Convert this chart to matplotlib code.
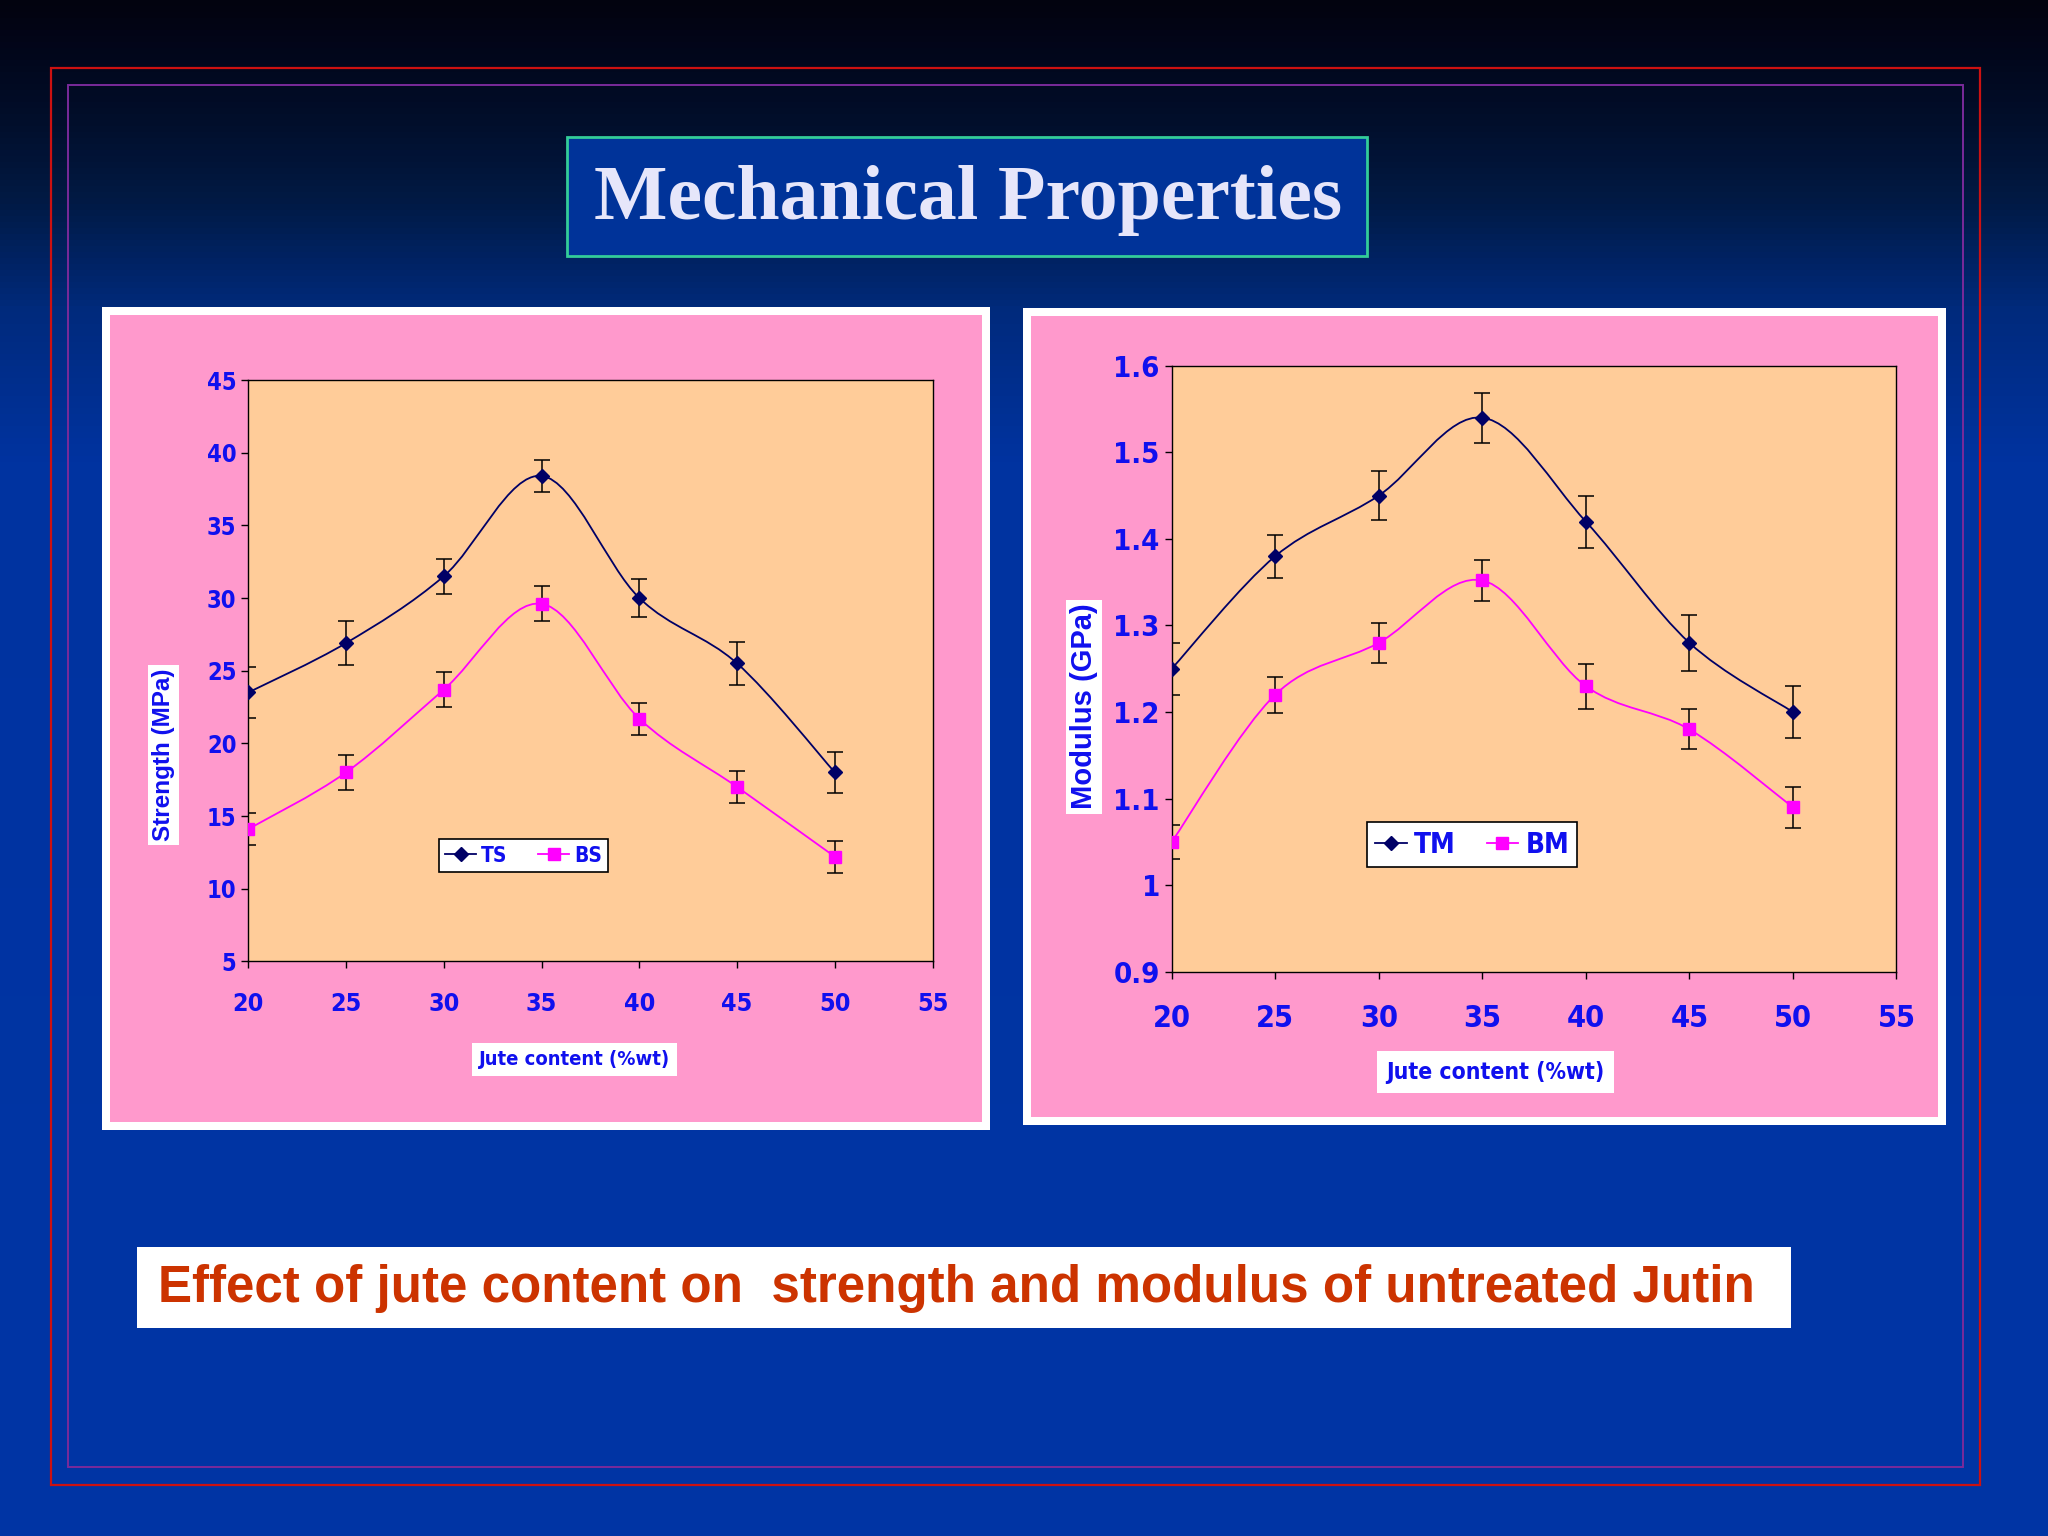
import numpy as np
import matplotlib
matplotlib.use("Agg")
import matplotlib.pyplot as plt
from matplotlib.patches import Rectangle, PathPatch
from matplotlib.path import Path
from matplotlib.lines import Line2D
from matplotlib.colors import LinearSegmentedColormap

# data
jute = [20, 25, 30, 35, 40, 45, 50]
ts = [23.5, 26.9, 31.5, 38.4, 30.0, 25.5, 18.0]
ts_err = [1.75, 1.5, 1.2, 1.1, 1.3, 1.5, 1.4]
bs = [14.1, 18.0, 23.7, 29.6, 21.7, 17.0, 12.2]
bs_err = [1.1, 1.2, 1.2, 1.2, 1.1, 1.1, 1.1]
tm = [1.25, 1.38, 1.45, 1.54, 1.42, 1.28, 1.20]
tm_err = [0.03, 0.025, 0.028, 0.029, 0.03, 0.032, 0.03]
bm = [1.05, 1.22, 1.28, 1.352, 1.23, 1.18, 1.09]
bm_err = [0.02, 0.021, 0.023, 0.024, 0.026, 0.023, 0.024]
x_ticks = [20, 25, 30, 35, 40, 45, 50, 55]
strength_ticks = [5, 10, 15, 20, 25, 30, 35, 40, 45]
modulus_ticks = [0.9, 1.0, 1.1, 1.2, 1.3, 1.4, 1.5, 1.6]
modulus_labels = ["0.9", "1", "1.1", "1.2", "1.3", "1.4", "1.5", "1.6"]

NARROW = ["DejaVu Sans", "Liberation Sans"]
ARIAL = ["Liberation Sans", "DejaVu Sans"]
TICK_BLUE = "#1010ee"
NAVY = "#000066"
MAGENTA = "#ff00ff"
NKW = dict(family=NARROW, fontweight="bold", fontstretch="condensed")


def smooth_path(x, y):
    # excel-like smoothed line: bezier segments through the points
    n = len(x)
    verts = [(x[0], y[0])]
    codes = [Path.MOVETO]
    for i in range(n - 1):
        a = max(i - 1, 0)
        b = min(i + 2, n - 1)
        c1 = (x[i] + (x[i + 1] - x[a]) / 6.0, y[i] + (y[i + 1] - y[a]) / 6.0)
        c2 = (x[i + 1] - (x[b] - x[i]) / 6.0, y[i + 1] - (y[b] - y[i]) / 6.0)
        verts += [c1, c2, (x[i + 1], y[i + 1])]
        codes += [Path.CURVE4] * 3
    return Path(verts, codes)


fig = plt.figure(figsize=(20.48, 15.36), dpi=100)

# slide background
bg = fig.add_axes([0, 0, 1, 1])
cmap = LinearSegmentedColormap.from_list(
    "slide", [(0, "#02030f"), (0.03, "#02061a"), (0.08, "#010f2c"),
              (0.13, "#011a45"), (0.2, "#002a7c"), (0.3, "#0033a0"),
              (1, "#0035a5")])
grad = np.linspace(0, 1, 256).reshape(-1, 1)
bg.imshow(grad, aspect="auto", cmap=cmap, extent=[0, 1, 0, 1], origin="upper")
bg.set_xlim(0, 1)
bg.set_ylim(0, 1)
bg.axis("off")

# frame lines
bg.add_patch(Rectangle((0.0249, 0.0332), 0.9419, 0.9226, fill=False,
                       ec="#cc1111", lw=1.6))
bg.add_patch(Rectangle((0.0332, 0.0451), 0.9253, 0.8996, fill=False,
                       ec="#7a2a9a", lw=1.4))

# title box
bg.add_patch(Rectangle((0.2768, 0.8333), 0.3909, 0.0774, fc="#003399",
                       ec="#33cc99", lw=2))
bg.text(0.4726, 0.8695, "Mechanical Properties", ha="center", va="center",
        fontsize=56, fontweight="bold", color="#e6e6fa",
        family=["Liberation Serif", "DejaVu Serif"])

# chart panels (white edge, pink fill)
for x0, y0, w, h in [(0.0497, 0.2645, 0.4337, 0.5357),
                     (0.4994, 0.2679, 0.4509, 0.5314)]:
    bg.add_patch(Rectangle((x0, y0), w, h, fc="white", ec="none"))
    bg.add_patch(Rectangle((x0 + 0.0040, y0 + 0.0052), w - 0.0080, h - 0.0104,
                           fc="#ff99cc", ec="none"))

# caption box
bg.add_patch(Rectangle((0.0670, 0.1352), 0.8074, 0.0527, fc="white", ec="none"))
bg.text(0.0772, 0.1610, "Effect of jute content on  strength and modulus of untreated Jutin",
        ha="left", va="center", fontsize=36.8, fontweight="bold", color="#cc3300",
        family=ARIAL)


def draw_series(ax, y, err, color, marker, ms):
    ax.errorbar(jute, y, yerr=err, fmt="none", ecolor="black", elinewidth=1.1,
                capsize=6, capthick=1.1, zorder=3)
    ax.add_patch(PathPatch(smooth_path(jute, y), fc="none", ec=color, lw=1.3,
                           zorder=4))
    ax.plot(jute, y, ls="none", marker=marker, color=color, ms=ms, zorder=5)


def style_axes(ax, yticks, ylabels, ylim, ysize, xsize, xpad):
    ax.set_facecolor("#ffcc99")
    ax.set_xlim(20, 55)
    ax.set_ylim(*ylim)
    ax.set_xticks(x_ticks)
    ax.set_yticks(yticks)
    ax.set_xticklabels([str(t) for t in x_ticks], fontsize=xsize,
                       color=TICK_BLUE, **NKW)
    ax.set_yticklabels(ylabels, fontsize=ysize, color=TICK_BLUE, **NKW)
    ax.tick_params(direction="out", length=5, width=1, colors="black",
                   labelcolor=TICK_BLUE)
    ax.tick_params(axis="x", pad=xpad)
    for s in ax.spines.values():
        s.set_color("black")
        s.set_linewidth(1)


def add_legend(ax, labels, anchor, size, hl, cs):
    h = [Line2D([], [], color=NAVY, marker="D", ms=7, lw=1.3),
         Line2D([], [], color=MAGENTA, marker="s", ms=8, lw=1.3)]
    leg = ax.legend(h, labels, loc="lower left", bbox_to_anchor=anchor,
                    ncol=2, frameon=True, fancybox=False, borderaxespad=0,
                    handlelength=hl, handletextpad=0.25, columnspacing=cs,
                    borderpad=0.3, framealpha=1, facecolor="white",
                    prop={"family": NARROW, "weight": "bold", "size": size,
                          "stretch": "condensed"})
    leg.get_frame().set_edgecolor("black")
    leg.get_frame().set_linewidth(1.2)
    for t in leg.get_texts():
        t.set_color(TICK_BLUE)


# left chart: strength
ax1 = fig.add_axes([0.1212, 0.3741, 0.3342, 0.3785])
draw_series(ax1, ts, ts_err, NAVY, "D", 7)
draw_series(ax1, bs, bs_err, MAGENTA, "s", 8)
style_axes(ax1, strength_ticks, [str(t) for t in strength_ticks], (5, 45), 17, 18, 17)
add_legend(ax1, ["TS", "BS"], (0.279, 0.154), 15, 1.45, 1.5)
fig.text(0.0797, 0.5085, "Strength (MPa)", rotation=90, ha="center", va="center",
         fontsize=17.5, fontweight="bold", color=TICK_BLUE, family=ARIAL,
         bbox=dict(fc="white", ec="none", pad=3))
fig.text(0.2806, 0.3104, "Jute content (%wt)", ha="center", va="center",
         fontsize=14.5, color=TICK_BLUE, bbox=dict(fc="white", ec="none", pad=5),
         **NKW)

# right chart: modulus
ax2 = fig.add_axes([0.5721, 0.3673, 0.3539, 0.3946])
draw_series(ax2, tm, tm_err, NAVY, "D", 7)
draw_series(ax2, bm, bm_err, MAGENTA, "s", 8)
style_axes(ax2, modulus_ticks, modulus_labels, (0.9, 1.6), 21, 22, 18)
add_legend(ax2, ["TM", "BM"], (0.2695, 0.173), 20, 1.15, 1.1)
fig.text(0.5293, 0.5400, "Modulus (GPa)", rotation=90, ha="center", va="center",
         fontsize=21, fontweight="bold", color=TICK_BLUE, family=ARIAL,
         bbox=dict(fc="white", ec="none", pad=3))
fig.text(0.7302, 0.3019, "Jute content (%wt)", ha="center", va="center",
         fontsize=16.5, color=TICK_BLUE, bbox=dict(fc="white", ec="none", pad=7),
         **NKW)

fig.savefig("out.png", dpi=100)
